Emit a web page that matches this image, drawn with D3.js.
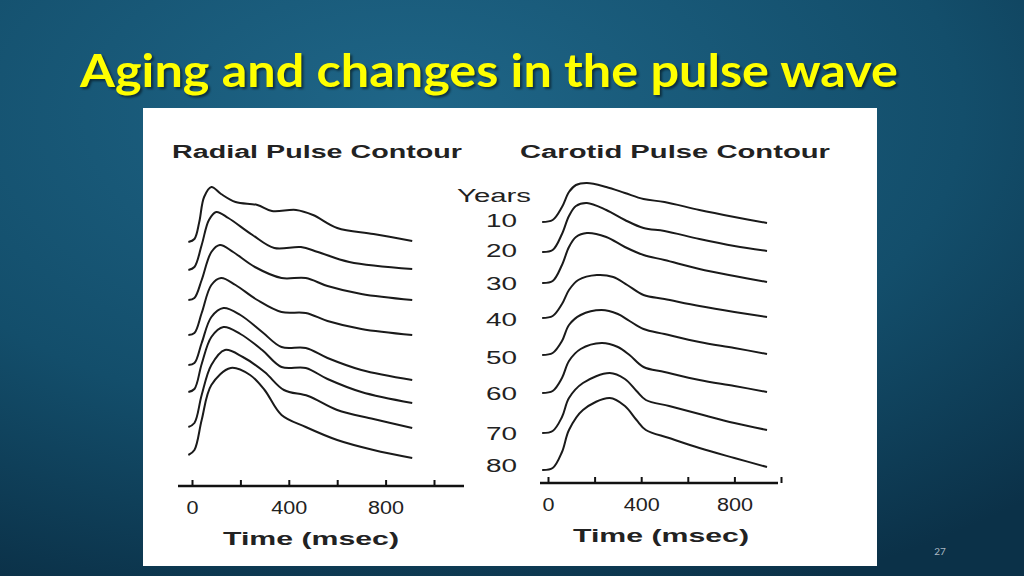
<!DOCTYPE html>
<html lang="en">
<head>
<meta charset="UTF-8" />
<title>Aging and changes in the pulse wave</title>
<style>
  body { margin: 0; }
  svg { display: block; }
</style>
</head>
<body>
<div class="container"></div>
<script src="https://d3js.org/d3.v7.min.js"></script>
<script>
const W = 1024, H = 576;

// ages (years) shown at the right of the left panel
const ages = [10, 20, 30, 40, 50, 60, 70, 80];
const xTicks = [0, 200, 400, 600, 800, 1000];
const xTickLabels = { 0: "0", 400: "400", 800: "800" };

// vertical offset of each trace (arbitrary units)
const radialOffsets = [238, 210, 180, 145, 115, 88, 53, 25];
const carotidOffsets = [258, 228, 197, 162, 125, 87, 47, 10];

// radial traces: [time ms, height]
const radial = [
  [[-15,0],[10,3],[30,20],[50,45],[80,55],[120,48],[180,40],[270,37],[330,31],[430,32],[500,27],[600,14],[750,8],[910,1]],
  [[-15,0],[10,3],[40,25],[70,50],[100,58],[150,52],[250,35],[340,22],[450,23],[520,18],[650,8],[910,1]],
  [[-15,0],[10,2],[40,20],[80,48],[115,55],[170,48],[260,33],[370,22],[470,22],[560,14],[700,6],[910,0]],
  [[-15,0],[10,2],[40,22],[80,50],[120,57],[180,50],[270,35],[370,23],[470,22],[560,14],[700,6],[910,0]],
  [[-15,0],[10,2],[40,22],[80,48],[130,57],[200,50],[290,33],[370,18],[470,17],[560,7],[700,-5],[910,-15]],
  [[-15,0],[10,3],[40,28],[80,55],[130,65],[200,58],[290,42],[370,25],[470,24],[560,13],[700,0],[910,-11]],
  [[-15,0],[10,4],[40,32],[80,62],[136,77],[210,70],[300,55],[380,37],[480,31],[600,17],[750,8],[910,-1]],
  [[-15,0],[10,5],[40,35],[80,70],[160,87],[240,80],[300,65],[370,40],[470,28],[600,15],[750,5],[910,-3]]
];

// carotid traces: [time ms, height]
const carotid = [
  [[-25,0],[20,2],[60,15],[90,30],[120,37],[167,39],[250,35],[330,29],[410,23],[500,20],[650,12],[800,5],[940,-1]],
  [[-25,0],[20,2],[60,18],[90,36],[120,46],[167,49],[250,42],[330,32],[410,24],[500,21],[650,13],[800,6],[940,1]],
  [[-25,0],[20,2],[60,18],[90,36],[120,46],[167,50],[250,46],[330,36],[410,28],[500,23],[650,14],[800,7],[940,1]],
  [[-25,0],[20,2],[60,14],[90,28],[130,38],[210,43],[280,41],[340,33],[410,23],[500,19],[650,12],[800,6],[940,1]],
  [[-25,0],[20,2],[60,14],[90,30],[140,40],[230,45],[300,41],[350,34],[410,26],[500,21],[650,13],[800,7],[940,1]],
  [[-25,0],[20,2],[60,15],[90,32],[140,44],[230,50],[300,46],[350,38],[410,26],[500,21],[650,13],[800,7],[940,1]],
  [[-25,0],[20,2],[60,16],[90,35],[150,50],[265,60],[330,54],[380,42],[420,33],[520,27],[650,19],[800,10],[940,3]],
  [[-25,0],[20,2],[60,18],[90,40],[150,60],[265,72],[330,64],[380,50],[420,40],[520,32],[650,22],[800,12],[940,3]]
];

const svg = d3.select(".container").append("svg")
  .attr("width", W).attr("height", H);

const defs = svg.append("defs");
const grad = defs.append("radialGradient").attr("id", "bg")
  .attr("cx", "40%").attr("cy", "20%").attr("r", "90%");
grad.append("stop").attr("offset", "0%").attr("stop-color", "#1f6688");
grad.append("stop").attr("offset", "60%").attr("stop-color", "#134e6b");
grad.append("stop").attr("offset", "100%").attr("stop-color", "#0b3148");
svg.append("rect").attr("width", W).attr("height", H).attr("fill", "url(#bg)");

svg.append("text")
  .attr("x", 80).attr("y", 87)
  .attr("fill", "#ffff00")
  .style("font-family", "Lato, 'Open Sans', sans-serif")
  .style("font-weight", "bold")
  .style("font-size", "45px")
  .attr("textLength", 818)
  .attr("lengthAdjust", "spacingAndGlyphs")
  .style("filter", "drop-shadow(2px 2px 1px rgba(0,0,0,0.5))")
  .text("Aging and changes in the pulse wave");

svg.append("text")
  .attr("x", 940).attr("y", 555)
  .attr("fill", "#aab8c2")
  .attr("text-anchor", "middle")
  .style("font-family", "Lato, sans-serif")
  .style("font-size", "10px")
  .text("27");

// white figure area
svg.append("rect")
  .attr("x", 143).attr("y", 108).attr("width", 734).attr("height", 458)
  .attr("fill", "#ffffff");

const y = d3.scaleLinear().domain([0, 300]).range([480, 180]);
const font = "'Liberation Sans', Arial, sans-serif";

// stretched text helper (the source figure uses a very wide typeface)
function wideText(sel, len) {
  return sel.attr("textLength", len).attr("lengthAdjust", "spacingAndGlyphs");
}

function panel(cfg) {
  const x = d3.scaleLinear().domain([0, 1000]).range(cfg.range);
  const g = svg.append("g");

  wideText(g.append("text")
    .attr("x", cfg.titleX).attr("y", 158)
    .style("font-family", font).style("font-weight", "bold")
    .style("font-size", "18px").attr("fill", "#222")
    .text(cfg.title), cfg.titleLen);

  const line = d3.line()
    .x(d => x(d[0]))
    .curve(d3.curveCatmullRom.alpha(0.5));

  cfg.data.forEach((trace, i) => {
    g.append("path")
      .datum(trace)
      .attr("d", line.y(d => y(d[1] + cfg.offsets[i])))
      .attr("fill", "none")
      .attr("stroke", "#1a1a1a")
      .attr("stroke-width", 2);
  });

  const axis = d3.axisBottom(x)
    .tickValues(xTicks)
    .tickSize(-6)
    .tickSizeOuter(0)
    .tickFormat(d => xTickLabels[d] || "");
  const ag = g.append("g")
    .attr("transform", "translate(0," + cfg.axisY + ")")
    .call(axis);
  ag.select(".domain").remove();
  ag.append("line")
    .attr("x1", cfg.axisLine[0]).attr("x2", cfg.axisLine[1])
    .attr("stroke", "#111").attr("stroke-width", 2.5);
  ag.selectAll(".tick line").attr("stroke", "#111").attr("stroke-width", 2);
  ag.selectAll(".tick text")
    .attr("y", 15)
    .attr("fill", "#222")
    .style("font-family", font)
    .style("font-size", "18px")
    .each(function (d) {
      const t = xTickLabels[d];
      if (t) wideText(d3.select(this), t.length * 12);
    });

  wideText(g.append("text")
    .attr("x", cfg.timeX).attr("y", cfg.axisY + 59)
    .attr("text-anchor", "middle")
    .style("font-family", font).style("font-weight", "bold")
    .style("font-size", "18px").attr("fill", "#222")
    .text("Time (msec)"), 176);
}

panel({
  title: "Radial Pulse Contour", titleX: 172, titleLen: 290,
  range: [192, 434], axisY: 486, axisLine: [178, 464], timeX: 311,
  data: radial, offsets: radialOffsets
});

panel({
  title: "Carotid Pulse Contour", titleX: 520, titleLen: 310,
  range: [548, 781], axisY: 483, axisLine: [540, 778], timeX: 661,
  data: carotid, offsets: carotidOffsets
});

// age labels
const labelY = [221, 251, 284, 320, 358, 394, 434, 466];
wideText(svg.append("text")
  .attr("x", 531).attr("y", 202)
  .attr("text-anchor", "end")
  .style("font-family", font).style("font-size", "18px").attr("fill", "#222")
  .text("Years"), 74);
svg.selectAll(".age").data(ages).enter().append("text")
  .attr("class", "age")
  .attr("x", 517)
  .attr("y", (d, i) => labelY[i] + 6)
  .attr("text-anchor", "end")
  .style("font-family", font).style("font-size", "18px").attr("fill", "#222")
  .attr("textLength", 31).attr("lengthAdjust", "spacingAndGlyphs")
  .text(d => d);
</script>
</body>
</html>
